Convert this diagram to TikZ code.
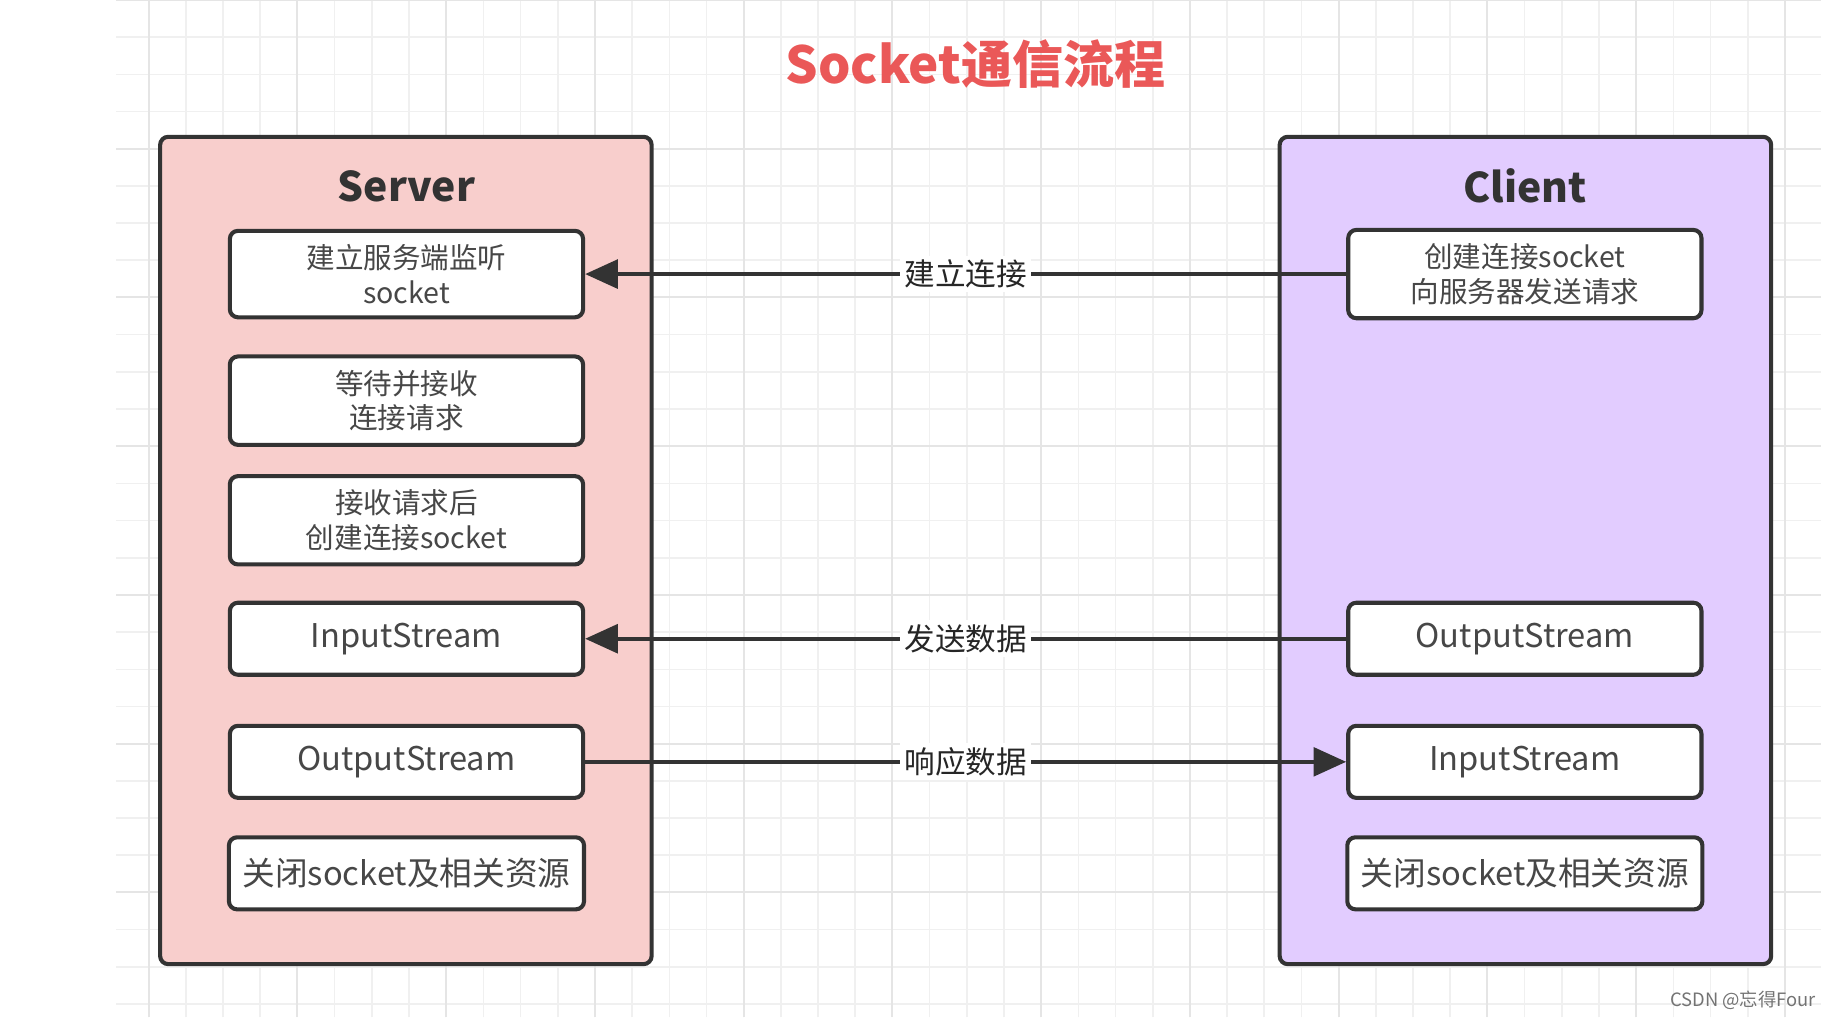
\documentclass[tikz,border=0pt]{standalone}
\usepackage{fontspec}
\setmainfont{Noto Sans CJK SC}
\usetikzlibrary{arrows.meta}
\definecolor{srvfill}{HTML}{F8CECC}
\definecolor{clifill}{HTML}{E2CCFF}
\definecolor{edge}{HTML}{333333}
\definecolor{titlered}{HTML}{EA5858}
\tikzset{
	panel/.style = {draw = edge, line width = 1pt, rounded corners = 2pt, minimum width = 4.23cm, minimum height = 7.12cm},
	step box/.style = {draw = edge, fill = white, line width = 1pt, rounded corners = 2pt, minimum width = 3.04cm, align = center, font = \fontsize{7}{8.5}\selectfont, text = edge!90},
	link/.style = {-{Triangle[length = 8pt, width = 7pt]}, edge, line width = 1pt},
	tag/.style = {fill = white, inner sep = 1pt, font = \fontsize{7.5}{9}\selectfont, text = black!85}
}

\begin{document}
\begin{tikzpicture}[x = 0.01cm, y = -0.01cm]
	\useasboundingbox (0,0) rectangle (1568,876);
	% grid
	\draw [black!6, line width = 0.4pt] (100,0) grid [step = 0.32cm] (1568,876);
	\draw [black!10, line width = 0.5pt] (100,0) grid [step = 1.28cm] (1568,876);
	\node [font = \fontsize{12.5}{14}\selectfont\bfseries, text = titlered] (title) at (840,55) {Socket通信流程};
	% panels
	\node [panel, fill = srvfill] (server) at (349.5,474) {};
	\node [panel, fill = clifill] (client) at (1313.5,474) {};
	\node [font = \fontsize{10}{12}\selectfont\bfseries, text = edge] (srvname) at (350,160) {Server};
	\node [font = \fontsize{10}{12}\selectfont\bfseries, text = edge] (cliname) at (1313,160) {Client};
	% server side
	\node [step box, minimum height = 0.74cm] (listen) at (350,236) {建立服务端监听\\socket};
	\node [step box, minimum height = 0.76cm] (accept) at (350,345) {等待并接收\\连接请求};
	\node [step box, minimum height = 0.76cm] (sconn) at (350,448) {接收请求后\\创建连接socket};
	\node [step box, minimum height = 0.62cm, font = \fontsize{8}{9}\selectfont] (sin) at (350,550) {InputStream};
	\node [step box, minimum height = 0.62cm, font = \fontsize{8}{9}\selectfont] (sout) at (350,656) {OutputStream};
	\node [step box, minimum height = 0.62cm, font = \fontsize{8}{9}\selectfont] (sclose) at (350,752) {关闭socket及相关资源};
	% client side
	\node [step box, minimum height = 0.74cm] (cconn) at (1313,236) {创建连接socket\\向服务器发送请求};
	\node [step box, minimum height = 0.62cm, font = \fontsize{8}{9}\selectfont] (cout) at (1313,550) {OutputStream};
	\node [step box, minimum height = 0.62cm, font = \fontsize{8}{9}\selectfont] (cin) at (1313,656) {InputStream};
	\node [step box, minimum height = 0.62cm, font = \fontsize{8}{9}\selectfont] (cclose) at (1313,752) {关闭socket及相关资源};
	% messages
	\draw [link] (cconn.west) -- node [tag] {建立连接} (listen.east);
	\draw [link] (cout.west) -- node [tag] {发送数据} (sin.east);
	\draw [link] (sout.east) -- node [tag] {响应数据} (cin.west);
	\node [font = \fontsize{4.5}{5}\selectfont, text = black!55] (mark) at (1501,861) {CSDN @忘得Four};
\end{tikzpicture}
\end{document}
